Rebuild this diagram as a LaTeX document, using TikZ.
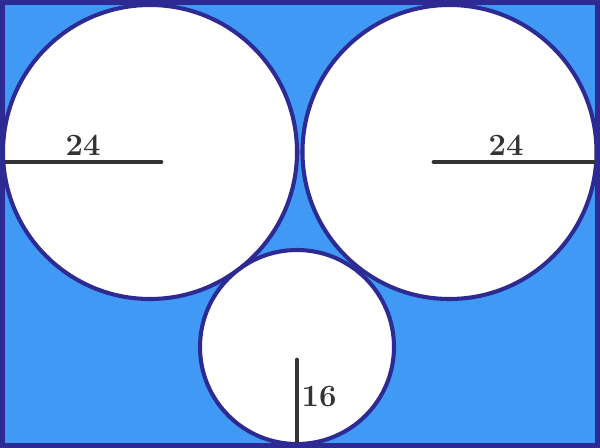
\documentclass[tikz,border=0pt]{standalone}
\usepackage{tikz}
\tikzset{
	rim/.style={line width=2.9pt, draw=rimblue, fill=white},
	radline/.style={line width=3.4pt, draw=radgray, line cap=round},
	radlabel/.style={text=radgray, font=\fontsize{22}{26}\selectfont\bfseries}
}
\definecolor{rimblue}{HTML}{2E2A93}
\definecolor{skyblue}{HTML}{3F99F5}
\definecolor{radgray}{HTML}{333333}

\begin{document}
\begin{tikzpicture}[x=0.025cm, y=-0.025cm]
			%%%%% START %%%%%
			\useasboundingbox (0, 0) rectangle (600, 448);
			\fill[skyblue] (0, 0) rectangle (600, 448);
			
			\draw[rim] (150, 152) circle (147);
			\draw[rim] (449.5, 152) circle (147);
			\draw[rim] (297, 347) circle (97);
			
			\coordinate (leftA) at (4, 162);
			\coordinate (leftB) at (161, 162);
			\draw[radline] (leftA) -- (leftB);
			\node[radlabel] (leftlab) at (83, 145) {24};
			
			\coordinate (rightA) at (434, 162);
			\coordinate (rightB) at (596, 162);
			\draw[radline] (rightA) -- (rightB);
			\node[radlabel] (rightlab) at (506, 145) {24};
			
			\coordinate (smallA) at (297, 360);
			\coordinate (smallB) at (297, 446);
			\draw[radline] (smallA) -- (smallB);
			\node[radlabel] (smalllab) at (319, 397) {16};
			
			\draw[line width=3.6pt, draw=rimblue] (2.5, 2.5) rectangle (597.5, 445.5);
			%%%%% END %%%%%
\end{tikzpicture}
\end{document}
